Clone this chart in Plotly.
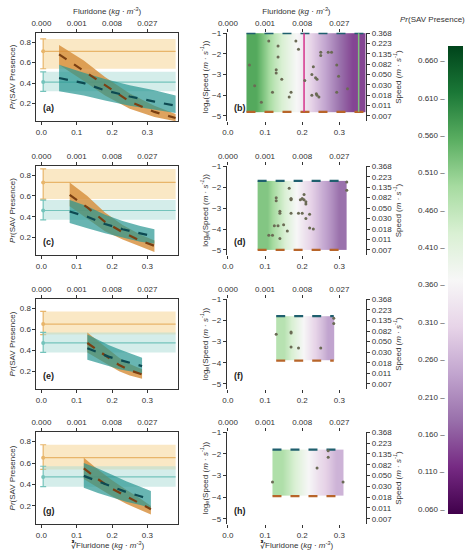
import plotly.graph_objects as go
import numpy as np

# ---------------- data ----------------
top_ticktext = ["0.000", "0.001", "0.008", "0.027"]
top_tickvals = [0.0, 0.1, 0.2, 0.3]
speed_tickvals = [-1, -1.5, -2, -2.5, -3, -3.5, -4, -4.5, -5]
speed_ticktext = ["0.368", "0.223", "0.135", "0.082", "0.050", "0.030", "0.018", "0.011", "0.007"]

# null models (orange, teal): line, lower, upper
null_orange = {"a": (0.71, 0.54, 0.83), "c": (0.73, 0.57, 0.86), "e": (0.65, 0.55, 0.77), "g": (0.65, 0.54, 0.77)}
null_teal = {"a": (0.41, 0.32, 0.51), "c": (0.46, 0.37, 0.56), "e": (0.47, 0.38, 0.57), "g": (0.47, 0.38, 0.57)}

rib_x = {"a": [0.05, 0.12, 0.18, 0.25, 0.32, 0.38],
         "c": [0.08, 0.13, 0.18, 0.23, 0.28, 0.32],
         "e": [0.13, 0.16, 0.19, 0.22, 0.25, 0.285],
         "g": [0.12, 0.16, 0.2, 0.24, 0.28, 0.31]}
or_mid = {"a": [0.68, 0.52, 0.38, 0.22, 0.12, 0.06], "c": [0.61, 0.49, 0.35, 0.25, 0.17, 0.12],
          "e": [0.47, 0.40, 0.33, 0.26, 0.21, 0.17], "g": [0.55, 0.45, 0.36, 0.29, 0.22, 0.17]}
or_up = {"a": [0.77, 0.62, 0.46, 0.30, 0.18, 0.10], "c": [0.73, 0.60, 0.44, 0.32, 0.23, 0.17],
         "e": [0.57, 0.49, 0.41, 0.33, 0.27, 0.22], "g": [0.65, 0.54, 0.44, 0.35, 0.27, 0.20]}
or_lo = {"a": [0.58, 0.42, 0.28, 0.15, 0.07, 0.03], "c": [0.50, 0.38, 0.26, 0.18, 0.11, 0.06],
         "e": [0.38, 0.32, 0.26, 0.20, 0.16, 0.13], "g": [0.45, 0.37, 0.29, 0.22, 0.16, 0.12]}
te_mid = {"a": [0.45, 0.40, 0.33, 0.27, 0.22, 0.18], "c": [0.45, 0.40, 0.33, 0.28, 0.24, 0.21],
          "e": [0.42, 0.38, 0.34, 0.31, 0.28, 0.25], "g": [0.48, 0.43, 0.38, 0.33, 0.29, 0.26]}
te_up = {"a": [0.58, 0.50, 0.44, 0.38, 0.33, 0.28], "c": [0.56, 0.50, 0.42, 0.36, 0.31, 0.28],
         "e": [0.55, 0.50, 0.45, 0.41, 0.37, 0.33], "g": [0.60, 0.55, 0.49, 0.43, 0.38, 0.34]}
te_lo = {"a": [0.32, 0.28, 0.23, 0.18, 0.14, 0.11], "c": [0.34, 0.29, 0.24, 0.20, 0.16, 0.14],
         "e": [0.31, 0.28, 0.25, 0.22, 0.20, 0.18], "g": [0.37, 0.32, 0.28, 0.24, 0.21, 0.18]}

# heatmap cell edges (x) and cell values (z, one per cell)
heat_x = {"b": [0.05, 0.1, 0.15, 0.2, 0.25, 0.3, 0.37],
          "d": [0.08, 0.13, 0.18, 0.23, 0.28, 0.32],
          "f": [0.13, 0.17, 0.21, 0.25, 0.285],
          "h": [0.12, 0.17, 0.22, 0.27, 0.31]}
heat_z = {"b": [0.56, 0.46, 0.38, 0.30, 0.22, 0.14],
          "d": [0.52, 0.42, 0.33, 0.25, 0.18],
          "f": [0.47, 0.39, 0.31, 0.24],
          "h": [0.48, 0.40, 0.32, 0.26]}
heat_y = {"b": [-4.8, -1.0], "d": [-5.0, -1.7], "f": [-3.9, -1.8], "h": [-3.95, -1.8]}

pts_x = {"b": [0.11, 0.135, 0.135, 0.058, 0.13, 0.13, 0.145, 0.072, 0.12, 0.17, 0.165, 0.09, 0.183, 0.19, 0.207,
               0.23, 0.226, 0.236, 0.24, 0.238, 0.226, 0.279, 0.27, 0.25, 0.25, 0.293, 0.298, 0.322, 0.293, 0.24, 0.245],
         "d": [0.11, 0.12, 0.125, 0.13, 0.135, 0.14, 0.14, 0.14, 0.15, 0.16, 0.165, 0.17, 0.17, 0.17, 0.19, 0.195,
               0.2, 0.2, 0.205, 0.205, 0.21, 0.21, 0.22, 0.22, 0.23, 0.32, 0.32, 0.17, 0.2, 0.21, 0.13],
         "f": [0.13, 0.17, 0.17, 0.17, 0.19, 0.25, 0.285, 0.285],
         "h": [0.12, 0.24, 0.27, 0.27, 0.31]}
pts_y = {"b": [-1.38, -1.62, -2.15, -2.54, -2.77, -2.92, -3.23, -3.54, -3.85, -3.85, -4.08, -4.34, -1.38, -1.77, -3.28,
               -2.62, -3.0, -3.15, -3.23, -3.92, -4.0, -1.92, -1.92, -1.92, -2.08, -2.54, -3.08, -3.69, -3.85, -4.0, -4.08],
         "d": [-4.3, -4.3, -3.85, -2.65, -3.85, -3.15, -3.25, -4.45, -3.8, -4.1, -2.05, -2.55, -2.6, -3.25, -3.25, -2.6,
               -2.55, -3.25, -2.6, -2.35, -3.5, -2.7, -3.95, -3.3, -4.0, -1.75, -2.15, -2.55, -2.55, -2.8, -2.5],
         "f": [-2.65, -2.55, -2.6, -3.25, -3.3, -3.3, -1.9, -2.15],
         "h": [-3.3, -2.65, -2.15, -1.85, -3.3]}
vlines_b = [(0.205, "#d6338c"), (0.352, "#7fc07a")]
cbar_ticks = [0.06, 0.11, 0.16, 0.21, 0.26, 0.31, 0.36, 0.41, 0.46, 0.51, 0.56, 0.61, 0.66]
CMIN, CMAX = 0.053, 0.679

# ---------------- layout helpers ----------------
W, H = 474, 553
def px(x): return x / W
def py(y): return 1 - y / H
rows = [(29, 118), (163, 253), (297, 388), (431, 524)]
LX = (28, 172); RX = (222, 364)
CB = (447, 462, 43, 514)
FONT = dict(family="Liberation Sans, Arial", size=8, color="#333")
OR_LINE = "#e8b56a"; OR_BAND = "rgba(246,214,150,0.55)"
TE_LINE = "#74c3bb"; TE_BAND = "rgba(170,220,214,0.5)"
OR_RIB = "rgba(214,140,55,0.8)"; TE_RIB = "rgba(40,150,145,0.7)"
OR_DASH = "#7a3f12"; TE_DASH = "#0d4a52"

fig = go.Figure()
layout = {}
ann = []
left_keys = ["a", "c", "e", "g"]
right_keys = ["b", "d", "f", "h"]
ax = 0
def axname(i, kind): return f"{kind}axis" + ("" if i == 1 else str(i))
def ref(i, kind): return kind + ("" if i == 1 else str(i))

tick_common = dict(ticks="outside", ticklen=3, tickcolor="#333", tickfont=FONT, showgrid=False, zeroline=False)
bottom_text = "∛Fluridone (<i>kg · m<sup>-3</sup></i>)"
top_title = dict(text="Fluridone (<i>kg · m<sup>-3</sup></i>)", font=FONT, standoff=2)

for r, (y0, y1) in enumerate(rows):
    dom_y = [py(y1), py(y0)]
    # ---------------- left panel ----------------
    k = left_keys[r]
    ax += 1; i = ax
    xr, yr = ref(i, "x"), ref(i, "y")
    layout[axname(i, "x")] = dict(domain=[px(LX[0]), px(LX[1])], range=[-0.014, 0.386], anchor=yr,
                                  tickvals=[0, 0.1, 0.2, 0.3], ticktext=["0.0", "0.1", "0.2", "0.3"],
                                  showline=True, linecolor="#333", linewidth=1, **tick_common)
    layout[axname(i, "y")] = dict(domain=dom_y, range=[0.03, 0.89], anchor=xr, tickvals=[0.2, 0.4, 0.6, 0.8],
                                  showline=True, linecolor="#333", linewidth=1, mirror=True, **tick_common,
                                  title=dict(text="<i>Pr</i>(SAV Presence)", font=FONT, standoff=2))
    ax += 1; t = ax
    layout[axname(t, "x")] = dict(overlaying=xr, side="top", anchor=yr, range=[-0.014, 0.386], tickvals=top_tickvals,
                                  ticktext=top_ticktext, showline=True, linecolor="#333", **tick_common,
                                  title=top_title if r == 0 else None)
    fig.add_trace(go.Scatter(x=[0], y=[0.5], xaxis=ref(t, "x"), yaxis=yr, mode="markers", opacity=0, showlegend=False, hoverinfo="skip"))
    for nm, band, line in [(null_orange, OR_BAND, OR_LINE), (null_teal, TE_BAND, TE_LINE)]:
        m, lo, up = nm[k]
        fig.add_trace(go.Scatter(x=[0.005, 0.38, 0.38, 0.005], y=[lo, lo, up, up], fill="toself", fillcolor=band,
                                 line=dict(width=0), mode="lines", xaxis=xr, yaxis=yr, showlegend=False))
        fig.add_trace(go.Scatter(x=[0.005, 0.38], y=[m, m], mode="lines", line=dict(color=line, width=1.2),
                                 xaxis=xr, yaxis=yr, showlegend=False))
        fig.add_trace(go.Scatter(x=[0.005], y=[m], mode="markers", marker=dict(color=line, size=4),
                                 error_y=dict(type="data", symmetric=False, array=[up - m], arrayminus=[m - lo],
                                              color=line, thickness=1.2, width=3),
                                 xaxis=xr, yaxis=yr, showlegend=False))
    xs = rib_x[k]
    for up, lo, fc in [(or_up, or_lo, OR_RIB), (te_up, te_lo, TE_RIB)]:
        fig.add_trace(go.Scatter(x=xs + xs[::-1], y=up[k] + lo[k][::-1], fill="toself", fillcolor=fc,
                                 line=dict(width=0), mode="lines", xaxis=xr, yaxis=yr, showlegend=False))
    for mid, dc in [(or_mid, OR_DASH), (te_mid, TE_DASH)]:
        fig.add_trace(go.Scatter(x=xs, y=mid[k], mode="lines", line=dict(color=dc, width=2.2, dash="dash"),
                                 xaxis=xr, yaxis=yr, showlegend=False))
    ann.append(dict(text=f"<b>({k})</b>", x=px(LX[0] + 5), y=py(y1 - 6), xref="paper", yref="paper",
                    xanchor="left", yanchor="bottom", showarrow=False, font=dict(family=FONT["family"], size=9, color="#222")))

    # ---------------- right panel ----------------
    k = right_keys[r]
    ax += 1; i = ax
    xr, yr = ref(i, "x"), ref(i, "y")
    layout[axname(i, "x")] = dict(domain=[px(RX[0]), px(RX[1])], range=[-0.003, 0.372], anchor=yr,
                                  tickvals=[0, 0.1, 0.2, 0.3], ticktext=["0.0", "0.1", "0.2", "0.3"],
                                  showline=False, **tick_common)
    layout[axname(i, "y")] = dict(domain=dom_y, range=[-5.25, -0.98], anchor=xr, tickvals=[-1, -2, -3, -4, -5],
                                  ticktext=["−1", "−2", "−3", "−4", "−5"],
                                  showline=True, linecolor="#333", **tick_common,
                                  title=dict(text="log<sub>e</sub>(Speed (<i>m · s<sup>-1</sup></i>))", font=FONT, standoff=2))
    ax += 1; t = ax
    layout[axname(t, "x")] = dict(overlaying=xr, side="top", anchor=yr, range=[-0.003, 0.372], tickvals=top_tickvals,
                                  ticktext=top_ticktext, showline=False, **tick_common,
                                  title=top_title if r == 0 else None)
    layout[axname(t, "y")] = dict(overlaying=yr, side="right", anchor=xr, range=[-5.25, -0.98], tickvals=speed_tickvals,
                                  ticktext=speed_ticktext, showline=True, linecolor="#333", **tick_common,
                                  title=dict(text="Speed (<i>m · s<sup>-1</sup></i>)", font=FONT, standoff=2))
    fig.add_trace(go.Scatter(x=[0], y=[-3], xaxis=ref(t, "x"), yaxis=ref(t, "y"), mode="markers", opacity=0,
                             showlegend=False, hoverinfo="skip"))
    hz = heat_z[k]
    fig.add_trace(go.Heatmap(x=heat_x[k], y=heat_y[k], z=[hz], coloraxis="coloraxis",
                             zsmooth="best", xaxis=xr, yaxis=yr, hoverinfo="skip"))
    hx0, hx1 = heat_x[k][0], heat_x[k][-1]
    yb, yt = heat_y[k]
    fig.add_trace(go.Scatter(x=[hx0, hx1], y=[yt, yt], mode="lines", line=dict(color="#1f5f6e", width=2.2, dash="dash"),
                             xaxis=xr, yaxis=yr, showlegend=False))
    fig.add_trace(go.Scatter(x=[hx0, hx1], y=[yb, yb], mode="lines", line=dict(color="#b8652a", width=2.2, dash="dash"),
                             xaxis=xr, yaxis=yr, showlegend=False))
    if k == "b":
        for xv, c in vlines_b:
            fig.add_trace(go.Scatter(x=[xv, xv], y=[yb, yt], mode="lines", line=dict(color=c, width=1.5),
                                     xaxis=xr, yaxis=yr, showlegend=False))
    fig.add_trace(go.Scatter(x=pts_x[k], y=pts_y[k], mode="markers", marker=dict(color="#6b6b55", size=3),
                             xaxis=xr, yaxis=yr, showlegend=False))
    ann.append(dict(text=f"<b>({k})</b>", x=px(RX[0] + 5), y=py(y1 - 6), xref="paper", yref="paper",
                    xanchor="left", yanchor="bottom", showarrow=False, font=dict(family=FONT["family"], size=9, color="#222")))

# bottom x titles
for (a0, a1) in [LX, RX]:
    ann.append(dict(text=bottom_text, x=px((a0 + a1) / 2), y=py(545), xref="paper", yref="paper", xanchor="center",
                    yanchor="middle", showarrow=False, font=FONT))
ann.append(dict(text="<i>Pr</i>(SAV Presence)", x=px(432), y=py(16), xref="paper", yref="paper", xanchor="center",
                yanchor="middle", showarrow=False, font=FONT))
# colorbar tick labels on the left side
for v in cbar_ticks:
    yp = CB[3] - (v - CMIN) / (CMAX - CMIN) * (CB[3] - CB[2])
    ann.append(dict(text=f"{v:.3f} –", x=px(CB[0] - 1), y=py(yp), xref="paper", yref="paper", xanchor="right",
                    yanchor="middle", showarrow=False, font=FONT))

fig.update_layout(
    width=W, height=H, margin=dict(l=0, r=0, t=0, b=0), plot_bgcolor="white", paper_bgcolor="white",
    font=FONT, annotations=ann,
    coloraxis=dict(colorscale="PRGn", cmin=CMIN, cmax=CMAX,
                   colorbar=dict(x=px(CB[0]), xanchor="left", y=py((CB[2] + CB[3]) / 2), yanchor="middle",
                                 len=(CB[3] - CB[2]) / H, lenmode="fraction", xpad=0, ypad=0,
                                 thickness=CB[1] - CB[0], showticklabels=False, ticks="", outlinewidth=0)),
    **layout)
fig.write_html("out.html", config={"displayModeBar": False})

# remove the default page margin so the figure fills the window exactly
with open("out.html", encoding="utf-8") as f:
    html = f.read()
html = html.replace("<head>", "<head><style>html,body{margin:0;padding:0;overflow:hidden;}</style>", 1)
with open("out.html", "w", encoding="utf-8") as f:
    f.write(html)
